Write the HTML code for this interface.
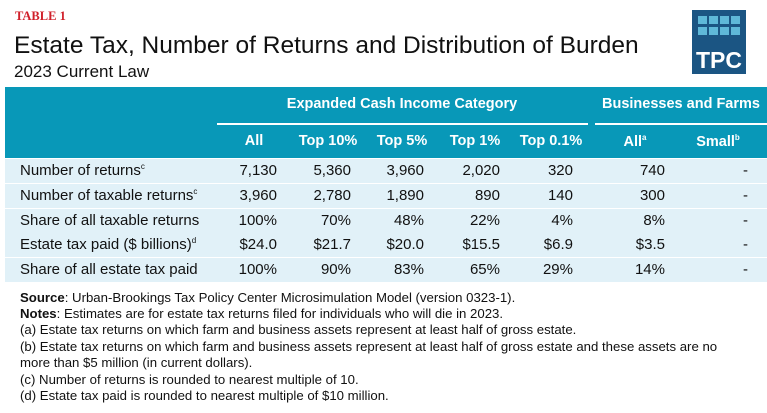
<!DOCTYPE html>
<html><head><meta charset="utf-8"><style>
body{margin:0;width:767px;height:413px;background:#fff;font-family:"Liberation Sans",sans-serif;position:relative;overflow:hidden;color:#111}
.abs{position:absolute;white-space:nowrap}
#hdr{position:absolute;left:5px;top:87px;width:762px;height:71px;background:#0898b8}
.h{position:absolute;color:#fff;font-weight:bold;font-size:14.5px;transform:translateX(-50%);white-space:nowrap}
.ul{position:absolute;height:2px;background:#fff;top:36px}
.row{position:absolute;left:5px;width:762px;height:24px;background:#e1f1f8}
.lbl{position:absolute;left:15px;top:3px;font-size:15px}
.v{position:absolute;top:3px;font-size:15px;text-align:right;transform:translateX(-100%)}
sup{font-size:8px;vertical-align:6px}
.fn{position:absolute;left:20px;font-size:13.2px;white-space:nowrap}
</style></head><body>
<div class="abs" style="left:15px;top:9px;font-family:'Liberation Serif',serif;font-weight:bold;color:#d0202a;font-size:12.5px">TABLE 1</div>
<div class="abs" style="left:14px;top:32px;font-size:24.5px">Estate Tax, Number of Returns and Distribution of Burden</div>
<div class="abs" style="left:14px;top:62px;font-size:17px">2023 Current Law</div>
<div class="abs" style="left:692px;top:10px;width:54px;height:64px;background:#1b5583">
<svg width="54" height="64" style="position:absolute;left:0;top:0">
<g fill="#5fb8d8"><rect x="6" y="6" width="9" height="8"/><rect x="17" y="6" width="9" height="8"/><rect x="28" y="6" width="9" height="8"/><rect x="39" y="6" width="9" height="8"/><rect x="6" y="17" width="9" height="8"/><rect x="17" y="17" width="9" height="8"/><rect x="28" y="17" width="9" height="8"/><rect x="39" y="17" width="9" height="8"/></g>
<text x="27" y="58" fill="#fff" font-family="Liberation Sans" font-weight="bold" font-size="23" text-anchor="middle">TPC</text></svg></div>
<div id="hdr">
<div class="h" style="left:397px;top:9px">Expanded Cash Income Category</div>
<div class="h" style="left:676px;top:9px">Businesses and Farms</div>
<div class="ul" style="left:212px;width:371px"></div>
<div class="ul" style="left:590px;width:172px"></div>
</div>
<div id="body"></div>
<div class="fn" style="top:290px"><b>Source</b>: Urban-Brookings Tax Policy Center Microsimulation Model (version 0323-1).</div>
<div class="fn" style="top:306px"><b>Notes</b>: Estimates are for estate tax returns filed for individuals who will die in 2023.</div>
<div class="fn" style="top:322px">(a) Estate tax returns on which farm and business assets represent at least half of gross estate.</div>
<div class="fn" style="top:339px">(b) Estate tax returns on which farm and business assets represent at least half of gross estate and these assets are no</div>
<div class="fn" style="top:355px">more than $5 million (in current dollars).</div>
<div class="fn" style="top:372px">(c) Number of returns is rounded to nearest multiple of 10.</div>
<div class="fn" style="top:388px">(d) Estate tax paid is rounded to nearest multiple of $10 million.</div>
<script>
const columns=["All","Top 10%","Top 5%","Top 1%","Top 0.1%","All<sup>a</sup>","Small<sup>b</sup>"];
const rowLabels=["Number of returns<sup>c</sup>","Number of taxable returns<sup>c</sup>","Share of all taxable returns","Estate tax paid ($ billions)<sup>d</sup>","Share of all estate tax paid"];
const rNumReturns=["7,130","5,360","3,960","2,020","320","740","-"];
const rTaxable=["3,960","2,780","1,890","890","140","300","-"];
const rShareTaxable=["100%","70%","48%","22%","4%","8%","-"];
const rTaxPaid=["$24.0","$21.7","$20.0","$15.5","$6.9","$3.5","-"];
const rSharePaid=["100%","90%","83%","65%","29%","14%","-"];
const rows=[rNumReturns,rTaxable,rShareTaxable,rTaxPaid,rSharePaid];
const hCenters=[254,328,402,475,551,635,718];
const vRights=[277,351,424,500,573,665,748];
const hdr=document.getElementById('hdr');
columns.forEach((c,i)=>{const d=document.createElement('div');d.className='h';d.style.left=(hCenters[i]-5)+'px';d.style.top='46px';d.innerHTML=c;


hdr.appendChild(d);});
const body=document.getElementById('body');
rows.forEach((r,ri)=>{const row=document.createElement('div');row.className='row';row.style.top=(159+ri*24.8)+'px';


const l=document.createElement('div');l.className='lbl';l.innerHTML=rowLabels[ri];


row.appendChild(l);
r.forEach((v,ci)=>{const c=document.createElement('div');c.className='v';c.style.left=(vRights[ci]-5)+'px';c.textContent=v;


row.appendChild(c);});
body.appendChild(row);});
</script>
</body></html>
